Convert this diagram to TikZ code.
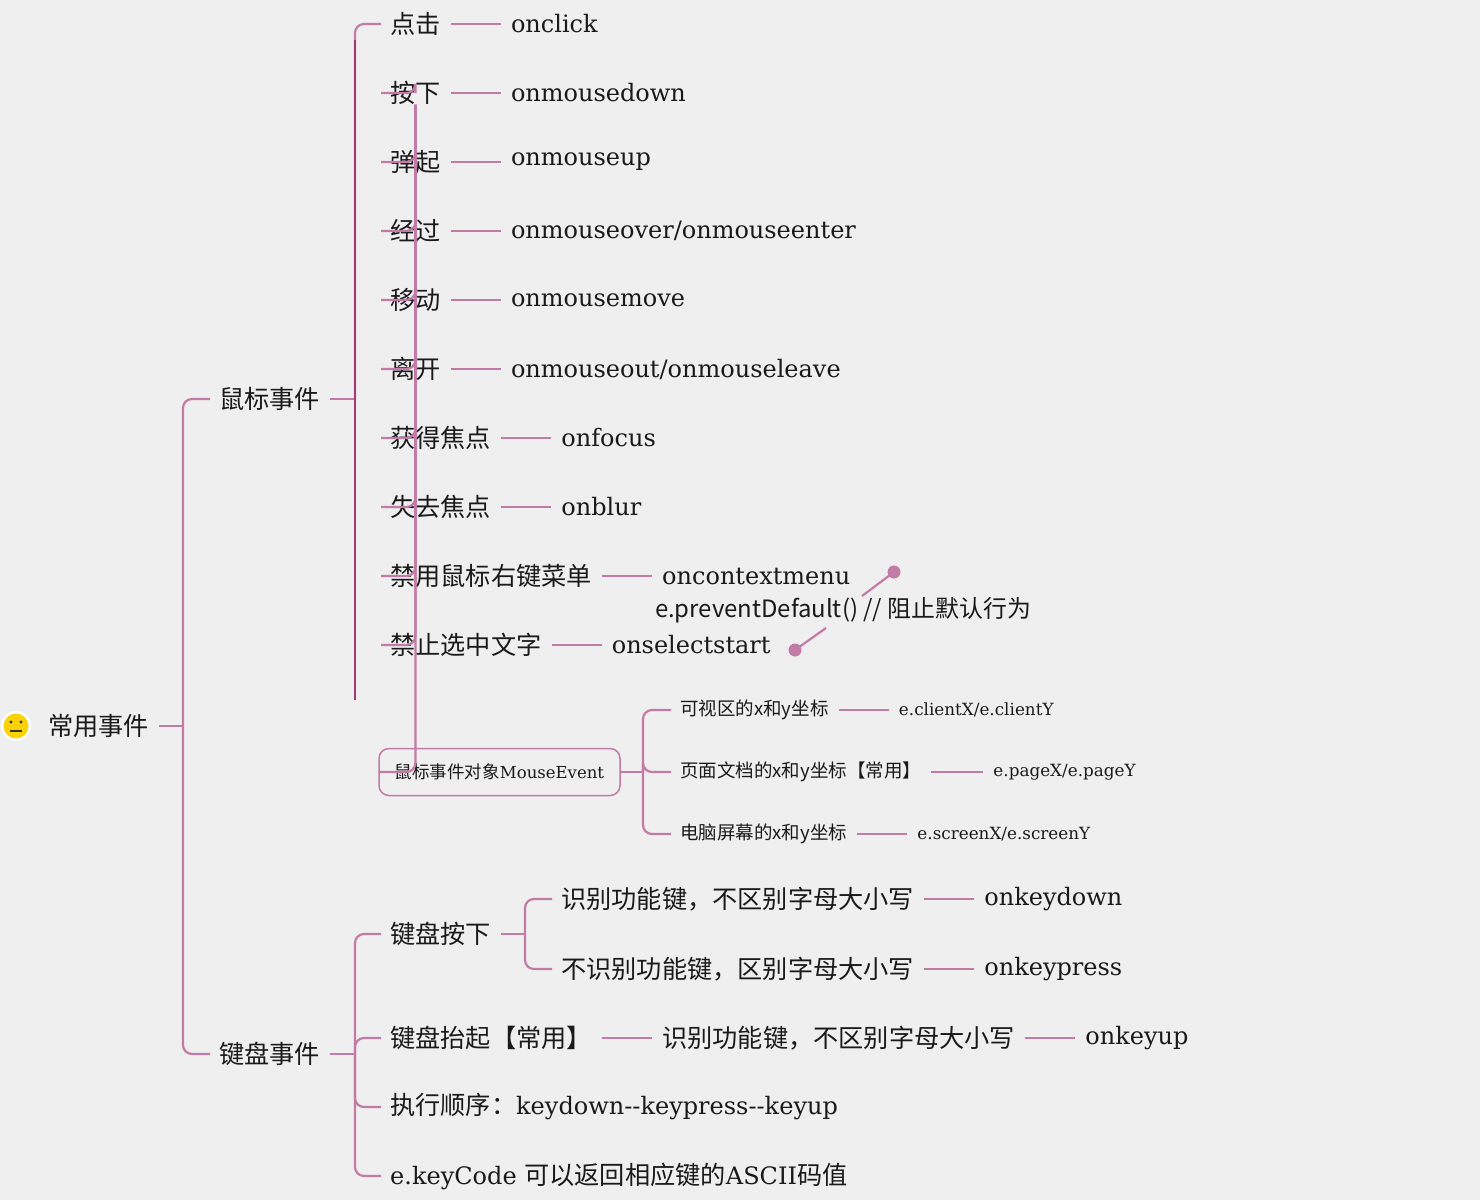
\documentclass[tikz,border=0pt]{standalone}
\usepackage{fontspec}
\setmainfont{DejaVu Serif}
\newfontfamily\zhf{Noto Sans CJK SC}
\newcommand{\zh}[1]{{\zhf #1}}
\definecolor{bg}{HTML}{EFEFEF}
\definecolor{ln}{HTML}{C27BA6}
\definecolor{dk}{HTML}{A33A78}
\definecolor{tx}{HTML}{1A1A1A}
\begin{document}
\begin{tikzpicture}[x=1pt,y=-1pt,
  L/.style={anchor=west,inner sep=0pt,text=tx,font=\fontsize{24}{28}\selectfont},
  Z/.style={anchor=west,inner sep=0pt,text=tx,font=\zhf\fontsize{25.2}{28}\selectfont},
  S/.style={anchor=west,inner sep=0pt,text=tx,font=\fontsize{16.8}{20}\selectfont},
  con/.style={ln,line width=2.2pt},
  br/.style={ln,line width=2.2pt,rounded corners=9pt}]
\fill[bg] (0,0) rectangle (1480,1200);
\useasboundingbox (0,0) rectangle (1480,1200);
% emoji
\fill[white] (16,726) circle (15);
\fill[yellow!70!orange] (16,726) circle (12.5);
\fill[black!80] (11,722) circle (1.7) (21,722) circle (1.7);
\draw[black!80,line width=1.6pt] (10,731) -- (22,731);
\node[Z] (root) at (48,726) {常用事件};
\node[Z] (mouse) at (219,399) {鼠标事件};
\node[Z] (kbd) at (219,1054) {键盘事件};
\coordinate (rb) at (183,726);
\draw[con] ([xshift=10]root.east) -- (rb);
\draw[br] (rb) |- ([xshift=-9]mouse.west);
\draw[br] (rb) |- ([xshift=-9]kbd.west);
% mouse items
\coordinate (mb) at (355,399);
\draw[con] ([xshift=10]mouse.east) -- (mb);
\foreach \n/\t/\v/\y in {a/点击/onclick/24, b/按下/onmousedown/93, c/弹起/onmouseup/162, d/经过/onmouseover\slash onmouseenter/231, e/移动/onmousemove/300, f/离开/onmouseout\slash onmouseleave/369, g/获得焦点/onfocus/438, h/失去焦点/onblur/507, i/禁用鼠标右键菜单/oncontextmenu/576, j/禁止选中文字/onselectstart/645}{
  \node[Z] (m\n) at (390,\y) {\t};
  \node[L] (v\n) at ([xshift=70]m\n.east) {\v};
  \draw[con] ([xshift=10]m\n.east) -- ([xshift=-10]v\n.west);
  \draw[br] (mb) |- ([xshift=-9]m\n.west);
}
\node[draw=ln,line width=1.5pt,rounded corners=10pt,minimum width=241pt,minimum height=47pt,inner sep=0pt,text=tx,font=\fontsize{16.5}{20}\selectfont] (box) at (499.5,772) {\zh{\fontsize{17.5}{20}\selectfont 鼠标事件对象}MouseEvent};
\draw[br] (mb) |- (box.west);
\draw[dk,line width=2.6pt] (355,40) -- (355,700);
% callout
\node[inner sep=0pt,text=tx,font=\zhf\fontsize{23.9}{26}\selectfont] (call) at (843,610) {e.preventDefault() // 阻止默认行为};
\fill[ln] (894,572) circle (6.5) coordinate (d1);
\fill[ln] (795,650) circle (6.5) coordinate (d2);
\draw[con] (d1) -- (862,596);
\draw[con] (826,628) -- (d2);
% mouse event sub
\coordinate (bb) at (643,772);
\draw[con] (box.east) -- (bb);
\foreach \n/\t/\v/\y/\g in {p/可视区的x和y坐标/e.clientX\slash e.clientY/710/70, q/页面文档的x和y坐标【常用】/e.pageX\slash e.pageY/772/72, r/电脑屏幕的x和y坐标/e.screenX\slash e.screenY/834/70}{
  \node[S,font=\zhf\fontsize{18.5}{20}\selectfont] (s\n) at (680,\y) {\t};
  \node[S] (w\n) at ([xshift=\g]s\n.east) {\v};
  \draw[con] ([xshift=10]s\n.east) -- ([xshift=-10]w\n.west);
  \draw[br] (bb) |- ([xshift=-9]s\n.west);
}
% keyboard
\coordinate (kbb) at (355,1054);
\draw[con] ([xshift=10]kbd.east) -- (kbb);
\node[Z] (ya) at (390,934) {键盘按下};
\node[Z] (yc) at (390,1038) {键盘抬起【常用】};
\node[L] (yd) at (390,1107) {\zh{\fontsize{25.2}{28}\selectfont 执行顺序：}keydown-{}-keypress-{}-keyup};
\node[L] (ye) at (390,1176) {e.keyCode \zh{\fontsize{25.2}{28}\selectfont 可以返回相应键的}ASCII\zh{\fontsize{25.2}{28}\selectfont 码值}};
\foreach \n in {ya,yc,yd,ye}{\draw[br] (kbb) |- ([xshift=-9]\n.west);}
\coordinate (kab) at (525,934);
\draw[con] ([xshift=10]ya.east) -- (kab);
\node[Z] (y1) at (561,899) {识别功能键，不区别字母大小写};
\node[Z] (y2) at (561,969) {不识别功能键，区别字母大小写};
\node[L] (u1) at ([xshift=70]y1.east) {onkeydown};
\node[L] (u2) at ([xshift=70]y2.east) {onkeypress};
\draw[br] (kab) |- ([xshift=-9]y1.west);
\draw[br] (kab) |- ([xshift=-9]y2.west);
\draw[con] ([xshift=10]y1.east) -- ([xshift=-10]u1.west);
\draw[con] ([xshift=10]y2.east) -- ([xshift=-10]u2.west);
\node[Z] (y3) at ([xshift=70]yc.east) {识别功能键，不区别字母大小写};
\node[L] (u3) at ([xshift=70]y3.east) {onkeyup};
\draw[con] ([xshift=10]yc.east) -- ([xshift=-10]y3.west);
\draw[con] ([xshift=10]y3.east) -- ([xshift=-10]u3.west);
\end{tikzpicture}
\end{document}
